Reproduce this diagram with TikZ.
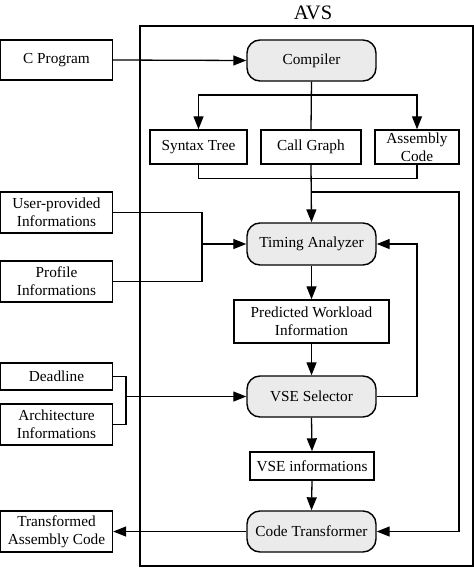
\documentclass[tikz,border=0pt]{standalone}
\usepackage{fontspec}
\setmainfont{Liberation Serif}
\usetikzlibrary{arrows.meta}
\definecolor{boxgray}{HTML}{EBEBEB}
\begin{document}
\begin{tikzpicture}[x=1pt,y=-1pt,
  every node/.style={font=\fontsize{15.3}{18}\selectfont, align=center, inner sep=0pt},
  plain/.style={draw, line width=1.4pt},
  outbox/.style={draw, line width=1.4pt, minimum width=112pt},
  proc/.style={draw, line width=1.4pt, fill=boxgray, rounded corners=13pt, minimum width=129pt, minimum height=41pt},
  conn/.style={line width=1.3pt},
  arr/.style={line width=1.3pt, -{Triangle[length=13pt,width=10pt]}}]
\useasboundingbox (0,0) rectangle (474,568);
% AVS frame
\node (avs) at (313,13) {\fontsize{20.5}{24}\selectfont AVS};
\draw[line width=1.5pt] (140,26) rectangle (473,566);
% outside boxes
\node[outbox, minimum height=40pt] (cprog) at (56.5,60) {C Program};
\node[outbox, minimum height=41pt] (user) at (56.5,212.5) {User-provided\\Informations};
\node[outbox, minimum height=41pt] (profile) at (56.5,281.5) {Profile\\Informations};
\node[outbox, minimum height=27pt] (deadline) at (56.5,376.5) {Deadline};
\node[outbox, minimum height=41pt] (arch) at (56.5,424.5) {Architecture\\Informations};
\node[outbox, minimum height=41pt] (trans) at (56.5,531.5) {Transformed\\Assembly Code};
\foreach \n in {cprog,user,profile,deadline,arch,trans}
  \draw[line width=3pt] (\n.north west) -- (\n.south west);
% inside
\node[proc] (compiler) at (311.5,60.5) {Compiler};
\node[plain, minimum width=97pt, minimum height=34pt] (syntax) at (198.5,147) {Syntax Tree};
\node[plain, minimum width=100pt, minimum height=34pt] (callg) at (311,147) {Call Graph};
\node[plain, minimum width=84pt, minimum height=34pt] (asm) at (417,147) {Assembly\\Code};
\node[proc, minimum height=42pt] (timing) at (311.5,244) {Timing Analyzer};
\node[plain, minimum width=155pt, minimum height=43pt] (pwi) at (311.5,321.5) {Predicted Workload\\Information};
\node[proc] (vse) at (311.5,396.5) {VSE Selector};
\node[plain, minimum width=124pt, minimum height=28pt] (vseinfo) at (312,466) {VSE informations};
\node[proc] (codet) at (311.5,531.5) {Code Transformer};
% coordinates
\coordinate (br) at (311,95);
\coordinate (j2) at (311,192);
\coordinate (r2) at (459,192);
\coordinate (fb) at (417,244);
\coordinate (m1) at (202,244);
\coordinate (m2) at (126,396.5);
% connectors
\draw[arr] (cprog.east) -- (compiler.west);
\draw[conn] (compiler.south) -- (callg.north);
\draw[arr] (br) -| (syntax.north);
\draw[arr] (br) -| (asm.north);
\draw[conn] (syntax.south) -- ++(0,14) -| (asm.south);
\draw[arr] (callg.south) -- (timing.north);
\draw[arr] (j2) -- (r2) |- (codet.east);
\draw[conn] (user.east) -| (m1) |- (profile.east);
\draw[arr] (m1) -- (timing.west);
\draw[arr] (timing.south) -- (pwi.north);
\draw[arr] (pwi.south) -- (vse.north);
\draw[arr] (vse.east) -| (fb) -- (timing.east);
\draw[conn] (deadline.east) -| (m2) |- (arch.east);
\draw[arr] (m2) -- (vse.west);
\draw[arr] (vse.south) -- (vseinfo.north);
\draw[arr] (vseinfo.south) -- (codet.north);
\draw[arr] (codet.west) -- (trans.east);
\end{tikzpicture}
\end{document}
